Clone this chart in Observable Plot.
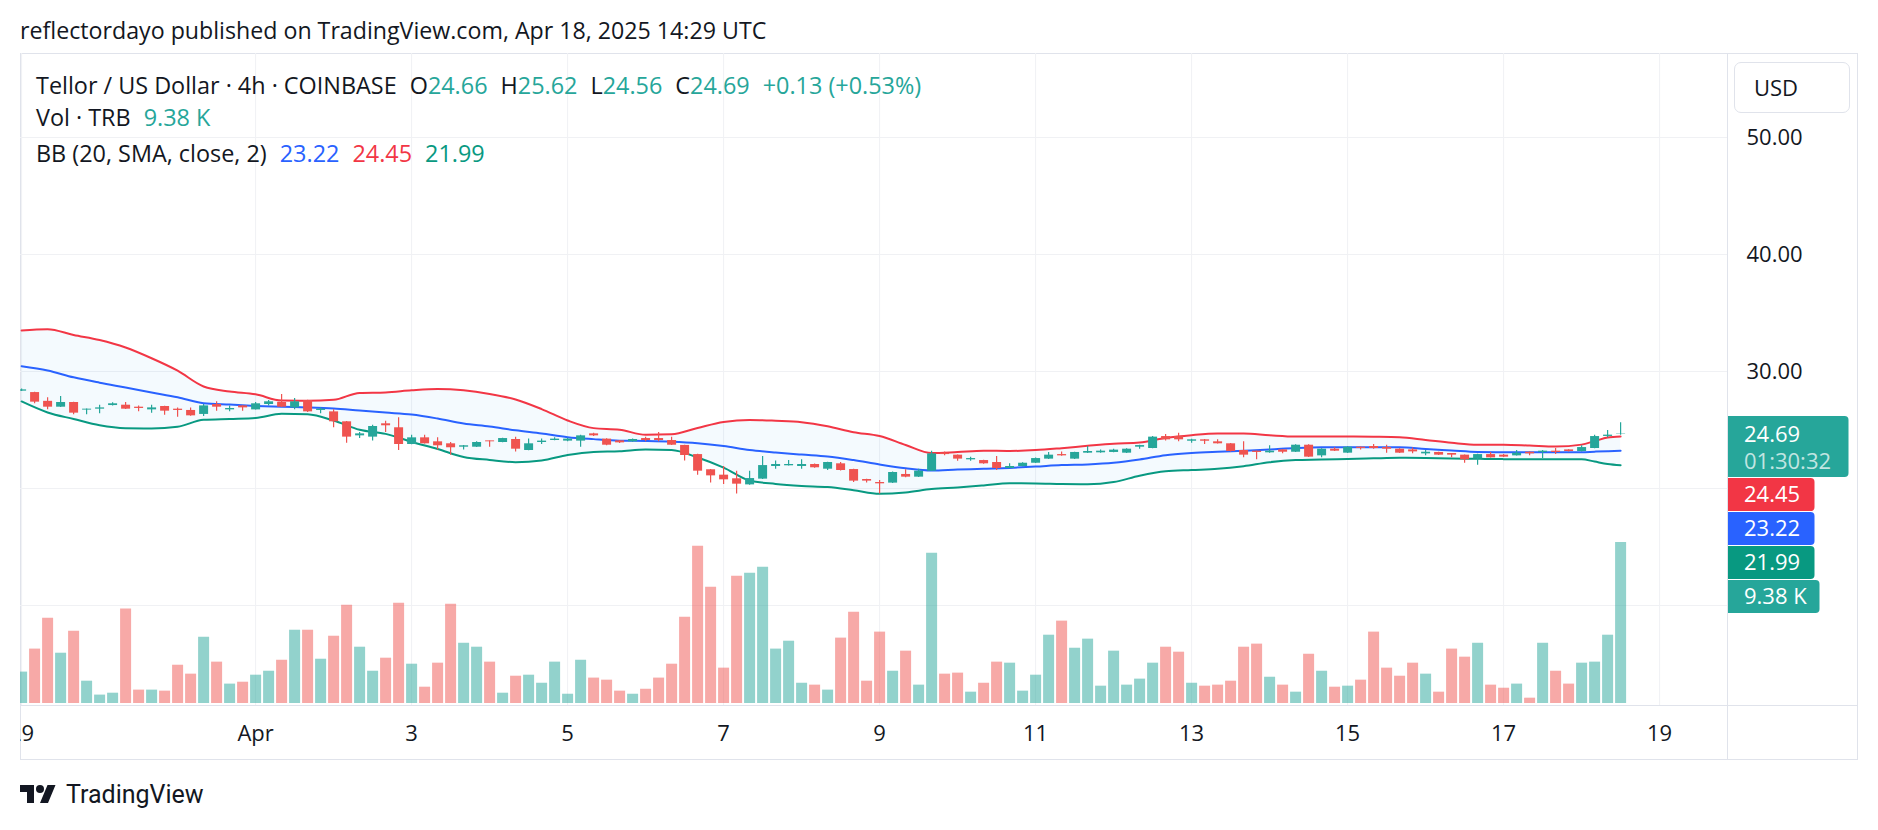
<!DOCTYPE html>
<html>
<head>
<meta charset="utf-8">
<title>Tellor / US Dollar · 4h · COINBASE</title>
<script src="https://cdn.jsdelivr.net/npm/d3@7"></script>
<script src="https://cdn.jsdelivr.net/npm/@observablehq/plot@0.6"></script>
<style>
  html, body { margin: 0; padding: 0; background: #fff; }
  body {
    width: 1878px; height: 830px; position: relative; overflow: hidden;
    font-family: "Open Sans", sans-serif; color: #131722;
  }
  .abs { position: absolute; }
  #header { left: 20px; top: 14px; font-size: 23.2px; line-height: 32px; white-space: nowrap; }
  #frame { left: 20px; top: 53px; width: 1838px; height: 707px; box-sizing: border-box; border: 1px solid #e0e3eb; }
  #vdiv { left: 1727px; top: 53px; width: 1px; height: 707px; background: #e0e3eb; }
  #hdiv { left: 20px; top: 705px; width: 1838px; height: 1px; background: #e0e3eb; }
  #price { left: 20px; top: 53px; }
  #volume { left: 20px; top: 520px; }
  .legend { left: 36px; font-size: 23.4px; line-height: 32px; white-space: nowrap; display: flex; }
  .legend .g { margin-left: 13px; }
  #usd { left: 1734px; top: 62px; width: 116px; height: 51px; box-sizing: border-box;
         border: 1px solid #e0e3eb; border-radius: 7px; font-size: 22px; line-height: 49px; padding-left: 19px; }
  #footer { left: 20px; top: 780px; display: flex; align-items: center; }
  #footer span { font-family: Roboto, sans-serif; font-size: 25px; margin-left: 10px; color: #131722; }
</style>
</head>
<body>
<div id="header" class="abs">reflectordayo published on TradingView.com, Apr 18, 2025 14:29 UTC</div>
<div id="frame" class="abs"></div>
<div id="price" class="abs"></div>
<div id="volume" class="abs"></div>
<div id="vdiv" class="abs"></div>
<div id="hdiv" class="abs"></div>
<div id="legend1" class="abs legend" style="top:69px"></div>
<div id="legend2" class="abs legend" style="top:101px"></div>
<div id="legend3" class="abs legend" style="top:137px"></div>
<div id="usd" class="abs">USD</div>
<div id="footer" class="abs">
  <svg width="36" height="28" viewBox="0 0 36 28"><path fill="#131722" d="M14 22H7V11H0V4h14v18zM28 22h-8l7.5-18h8L28 22z"/><circle fill="#131722" cx="20" cy="8" r="4"/></svg>
  <span>TradingView</span>
</div>
<script>
// 4-hour bars, TRB/USD on Coinbase, starting 29 Mar 2025 00:00 UTC
const firstBar = Date.UTC(2025, 2, 29);
const barMs = 4 * 3600 * 1000;

const open = [28.32,28.20,27.45,26.95,27.35,26.70,26.78,27.09,27.12,26.95, 26.72,27.01,26.78,26.67,26.33,27.18,26.72,27.06,26.72,27.18,
  27.35,26.89,27.52,26.67,26.55,25.70,24.50,24.39,25.53,25.19, 23.76,24.33,23.99,23.82,23.53,23.53,24.07,23.93,24.19,23.25,
  23.93,24.10,24.05,24.05,24.67,24.22,24.07,23.99,24.27,24.27, 24.10,23.68,22.90,21.60,21.14,20.83,20.31,20.80,21.88,21.94,
  21.88,22.05,21.65,22.11,21.62,20.77,20.51,20.46,21.20,20.97, 21.48,23.02,22.85,22.45,22.39,22.22,21.71,21.88,22.16,22.51,
  22.90,22.51,23.02,23.05,23.08,23.02,23.53,23.42,24.44,24.44, 24.04,24.16,23.99,23.82,23.25,23.19,23.05,23.30,23.10,23.70,
  22.79,23.36,23.02,23.53,23.59,23.50,23.36,23.30,22.96,23.08, 22.99,22.85,22.51,22.90,22.85,22.79,23.10,23.08,23.19,23.30,
  23.16,23.42,24.45,24.66];
const high = [28.50,28.22,27.75,27.86,27.38,26.80,27.12,27.32,27.35,27.06, 27.12,27.03,26.89,26.89,27.18,27.41,27.06,27.08,27.35,27.52,
  28.03,27.69,27.55,26.89,26.72,25.72,24.79,25.41,25.75,26.04, 24.56,24.56,24.33,23.93,23.67,24.00,24.07,24.30,24.39,24.24,
  24.24,24.33,24.30,24.55,24.72,24.25,24.10,24.22,24.39,24.79, 24.39,23.70,22.92,21.62,21.88,21.48,21.48,22.73,22.34,22.39,
  22.45,22.10,22.25,22.22,21.65,20.80,20.68,21.40,21.60,21.65, 23.19,23.13,22.87,22.68,22.42,22.73,22.11,22.20,22.60,23.08,
  23.13,23.10,23.59,23.30,23.36,23.40,23.70,24.45,24.61,24.73, 24.20,24.18,24.16,23.85,23.99,23.20,23.65,23.32,23.73,23.73,
  23.40,23.48,23.56,23.55,23.76,23.70,23.40,23.47,23.25,23.10, 23.00,22.87,22.93,23.08,22.90,23.25,23.12,23.25,23.42,23.32,
  23.65,24.56,24.96,25.62];
const low = [28.28,27.24,26.72,26.93,26.30,26.30,26.38,27.05,26.75,26.55, 26.44,26.27,26.10,26.18,26.15,26.61,26.55,26.61,26.70,27.06,
  26.93,26.72,26.50,26.38,25.19,23.87,24.27,24.05,24.79,23.25, 23.74,23.80,23.30,22.85,23.30,23.50,23.53,23.90,23.13,23.22,
  23.76,24.08,24.00,23.53,24.45,23.65,23.85,23.95,23.99,23.99, 23.68,22.34,21.14,20.46,20.34,19.52,20.28,20.77,21.65,21.92,
  21.65,21.74,21.54,21.50,20.51,20.46,19.52,20.43,20.91,20.94, 21.45,22.79,22.33,22.33,22.08,21.54,21.68,21.85,22.13,22.48,
  22.76,22.48,23.00,23.02,23.05,23.00,23.36,23.40,24.05,23.99, 23.87,23.76,23.80,23.13,22.62,22.45,23.02,22.96,23.08,22.65,
  22.62,23.16,23.00,23.30,23.36,23.02,23.00,22.96,22.79,22.82, 22.62,22.16,21.99,22.60,22.65,22.77,22.79,22.56,22.90,23.13,
  23.13,23.40,24.33,24.56];
const close = [28.43,27.38,26.95,27.35,26.44,26.78,26.89,27.24,26.78,26.84, 26.89,26.61,26.67,26.21,27.06,26.95,26.84,26.89,27.24,27.41,
  26.95,27.41,26.55,26.78,25.70,24.39,24.67,25.30,25.36,23.76, 24.33,23.82,23.65,23.48,23.65,23.93,23.99,24.27,23.36,23.82,
  24.05,24.22,24.22,24.50,24.50,23.70,23.90,24.19,24.10,24.10, 23.70,22.82,21.48,21.08,20.74,20.37,20.85,21.96,22.05,22.05,
  22.05,21.77,22.22,21.54,20.63,20.63,20.40,21.37,20.97,21.48, 22.96,22.90,22.51,22.56,22.11,21.71,21.88,22.16,22.56,22.85,
  22.79,23.08,23.16,23.19,23.28,23.36,23.67,24.39,24.16,24.16, 24.16,24.04,23.82,23.16,22.85,23.08,23.19,23.10,23.70,22.68,
  23.36,23.19,23.53,23.42,23.42,23.36,23.02,23.13,23.10,22.85, 22.85,22.45,22.90,22.62,22.68,23.02,22.96,23.19,23.08,23.16,
  23.50,24.44,24.56,24.69];
const volume = [1830,3170,4970,2930,4210,1300,490,600,5500,780, 780,720,2230,1710,3860,2410,1130,1240,1650,1880,
  2520,4270,4270,2580,3920,5730,3280,1880,2640,5840, 2290,950,2350,5790,3510,3280,2410,600,1590,1650,
  1180,2410,540,2520,1480,1360,720,540,830,1480, 2290,5030,9170,6780,2060,7420,7590,7940,3170,3630,
  1180,1070,780,3810,5320,1300,4160,1880,3050,1070, 8760,1710,1770,660,1180,2410,2350,720,1650,3980,
  4800,3220,3750,1010,3050,1070,1420,2350,3280,2990, 1180,1010,1070,1300,3280,3460,1530,1070,660,2870,
  1880,950,1010,1360,4160,2060,1590,2350,1710,660, 3170,2700,3510,1070,890,1130,310,3510,1880,1130,
  2350,2410,3980,9380];

// Bollinger Bands (20, SMA, close, 2), sampled at these bar numbers
const bbBar = [0,2,4,6,8,10,12,14,16,18, 20,22,24,26,28,30,32,34,36,38, 40,42,44,46,48,50,52,54,56,58,
  60,62,64,66,68,70,72,74,76,78, 80,82,84,86,88,90,92,94,96,98, 100,102,104,106,108,110,112,114,116,118, 120,121,122,123];
const bbUpper = [33.50,33.61,33.12,32.69,32.05,31.13,30.07,28.72,28.29,28.05, 27.52,27.50,27.58,28.17,28.21,28.39,28.50,28.39,28.08,27.61,
  26.79,25.81,25.16,25.03,24.59,24.63,25.17,25.68,25.86,25.79, 25.67,25.32,24.81,24.48,23.72,23.03,23.12,23.23,23.21,23.28,
  23.45,23.65,23.83,23.93,24.32,24.56,24.70,24.70,24.55,24.44, 24.44,24.44,24.42,24.38,24.15,23.91,23.74,23.74,23.67,23.59,
  23.75,24.05,24.35,24.45];
const bbBasis = [30.45,30.09,29.50,29.04,28.63,28.21,27.80,27.29,27.17,27.06, 26.98,26.93,26.84,26.66,26.49,26.32,25.98,25.56,25.30,24.97,
  24.70,24.39,24.22,24.09,24.06,24.00,23.87,23.63,23.30,23.08, 22.90,22.74,22.43,22.05,21.73,21.54,21.62,21.68,21.76,21.87,
  22.00,22.06,22.20,22.48,22.85,23.03,23.14,23.23,23.33,23.46, 23.53,23.53,23.53,23.53,23.38,23.25,23.12,23.10,23.10,23.10,
  23.10,23.15,23.19,23.22];
const bbLower = [27.44,26.50,25.94,25.40,25.15,25.13,25.28,25.87,25.95,26.03, 26.38,26.34,25.81,25.02,24.67,23.98,23.38,22.70,22.44,22.25,
  22.39,22.86,23.13,23.19,23.33,23.29,22.65,21.79,20.68,20.39, 20.22,20.12,19.85,19.55,19.66,19.95,20.09,20.26,20.44,20.43,
  20.38,20.36,20.55,21.09,21.47,21.58,21.68,21.91,22.25,22.43, 22.47,22.53,22.58,22.62,22.60,22.56,22.54,22.51,22.50,22.51,
  22.50,22.30,22.10,21.99];

// time-axis labels, price grid levels and the labelled price levels
const dayTicks = ["2025-03-29","2025-04-01","2025-04-03","2025-04-05","2025-04-07","2025-04-09",
  "2025-04-11","2025-04-13","2025-04-15","2025-04-17","2025-04-19"];
const priceGrid = [10, 20, 30, 40, 50];
const priceLabels = [30, 40, 50];
const countdown = "01:30:32";

const UP = "#26a69a", DOWN = "#ef5350";
const UP_VOL = "rgba(38,166,154,0.5)", DOWN_VOL = "rgba(239,83,80,0.5)";
const BB_UP = "#f23645", BB_MID = "#2962ff", BB_LOW = "#089981";
const FONT = '"Open Sans", sans-serif';

const bars = open.map((o, i) => ({
  date: new Date(firstBar + i * barMs),
  open: o, high: high[i], low: low[i], close: close[i], volume: volume[i],
  rising: close[i] >= o
}));
const bands = bbBar.map((b, i) => ({
  date: new Date(firstBar + b * barMs), upper: bbUpper[i], basis: bbBasis[i], lower: bbLower[i]
}));

// horizontal layout: 13 px per 4h bar, first bar 1 px inside the pane
const pxPerDay = 78, paneWidth = 1707;
const DAY = 864e5;
const t0 = firstBar - 1.1 / pxPerDay * DAY;
const xDomain = [new Date(t0), new Date(t0 + paneWidth / pxPerDay * DAY)];
const tickDates = dayTicks.map(d => new Date(d + "T00:00:00Z"));

const monthFmt = d3.utcFormat("%b");
const tickFormat = d => d.getUTCDate() === 1 ? monthFmt(d) : String(d.getUTCDate());

const pricePlot = Plot.plot({
  width: 1837, height: 706,
  marginLeft: 0, marginRight: 130, marginTop: 0, marginBottom: 54,
  style: {fontFamily: FONT, fontSize: "22px", color: "#131722", background: "transparent", overflow: "hidden"},
  x: {type: "utc", domain: xDomain},
  y: {domain: [1.453, 57.179]},
  marks: [
    Plot.gridX(tickDates, {stroke: "#f0f1f4", strokeOpacity: 1}),
    Plot.gridY(priceGrid, {stroke: "#f0f1f4", strokeOpacity: 1}),
    Plot.areaY(bands, {x: "date", y1: "lower", y2: "upper", fill: "#2196f3", fillOpacity: 0.05, curve: "monotone-x"}),
    Plot.lineY(bands, {x: "date", y: "upper", stroke: BB_UP, strokeWidth: 2, curve: "monotone-x"}),
    Plot.lineY(bands, {x: "date", y: "basis", stroke: BB_MID, strokeWidth: 2, curve: "monotone-x"}),
    Plot.lineY(bands, {x: "date", y: "lower", stroke: BB_LOW, strokeWidth: 2, curve: "monotone-x"}),
    Plot.ruleX(bars, {x: "date", y1: "low", y2: "high", stroke: d => d.rising ? UP : DOWN, strokeWidth: 1.2}),
    Plot.ruleX(bars, {x: "date", y1: "open", y2: "close", stroke: d => d.rising ? UP : DOWN, strokeWidth: 9}),
    Plot.axisX({ticks: tickDates, tickFormat, tickSize: 0, tickPadding: 20, fontSize: 22}),
    Plot.axisY({anchor: "right", ticks: priceLabels, tickFormat: d => d.toFixed(2), tickSize: 0, tickPadding: 19, fontSize: 22})
  ]
});
document.getElementById("price").append(pricePlot);

const volumePlot = Plot.plot({
  width: paneWidth, height: 183, margin: 0,
  style: {background: "transparent", overflow: "hidden"},
  x: {type: "utc", domain: xDomain, axis: null},
  y: {domain: [0, 10664], axis: null},
  marks: [
    Plot.ruleX(bars, {x: "date", y1: 0, y2: "volume", stroke: d => d.rising ? UP_VOL : DOWN_VOL, strokeWidth: 11})
  ]
});
document.getElementById("volume").append(volumePlot);

// last-value labels on the price axis, stacked so they do not overlap
const last = bars[bars.length - 1];
const prevClose = close[close.length - 2];
const fmt2 = v => v.toFixed(2);
const fmtVol = v => (v / 1000).toFixed(2) + " K";
const yP = pricePlot.scale("y"), yV = volumePlot.scale("y");
const volOffset = 520 - 53;
const tags = [
  {lines: [fmt2(last.close), countdown], fill: UP, w: 121, h: 61, want: yP.apply(last.close) - 17},
  {lines: [fmt2(bbUpper.at(-1))], fill: BB_UP, w: 87, h: 33, want: yP.apply(bbUpper.at(-1)) - 16.5},
  {lines: [fmt2(bbBasis.at(-1))], fill: BB_MID, w: 87, h: 33, want: yP.apply(bbBasis.at(-1)) - 16.5},
  {lines: [fmt2(bbLower.at(-1))], fill: BB_LOW, w: 87, h: 33, want: yP.apply(bbLower.at(-1)) - 16.5},
  {lines: [fmtVol(last.volume)], fill: UP, w: 92, h: 33, want: yV.apply(last.volume) + volOffset - 16.5}
];
let bottom = -Infinity;
for (const t of tags) { t.top = Math.max(t.want, bottom + 1); bottom = t.top + t.h; }
const x0 = 1707.5, r = 4;
const g = d3.select(pricePlot).append("g")
  .attr("font-family", FONT).attr("font-size", 22).attr("text-anchor", "start");
for (const t of tags) {
  const x1 = x0 + t.w, y0 = t.top, y1 = t.top + t.h;
  g.append("path")
    .attr("d", `M${x0},${y0}H${x1 - r}Q${x1},${y0} ${x1},${y0 + r}V${y1 - r}Q${x1},${y1} ${x1 - r},${y1}H${x0}Z`)
    .attr("fill", t.fill);
  t.lines.forEach((s, i) => {
    g.append("text").attr("x", 1724).attr("y", y0 + (t.lines.length > 1 ? 18 + i * 27 : t.h / 2))
      .attr("dy", "0.35em").attr("fill", i ? "rgba(255,255,255,0.72)" : "#fff").text(s);
  });
}

// legend
function legendLine(el, parts) {
  const node = document.getElementById(el);
  for (const p of parts) {
    const s = document.createElement("span");
    if (p.g) s.className = "g";
    s.style.color = p.c || "#131722";
    s.textContent = p.t;
    node.append(s);
  }
}
const chg = last.close - prevClose;
const sign = v => (v >= 0 ? "+" : "");
legendLine("legend1", [
  {t: "Tellor / US Dollar · 4h · COINBASE"},
  {t: "O", g: 1}, {t: fmt2(last.open), c: UP},
  {t: "H", g: 1}, {t: fmt2(last.high), c: UP},
  {t: "L", g: 1}, {t: fmt2(last.low), c: UP},
  {t: "C", g: 1}, {t: fmt2(last.close), c: UP},
  {t: `${sign(chg)}${chg.toFixed(2)} (${sign(chg)}${(chg / prevClose * 100).toFixed(2)}%)`, c: UP, g: 1}
]);
legendLine("legend2", [{t: "Vol · TRB"}, {t: fmtVol(last.volume), c: UP, g: 1}]);
legendLine("legend3", [
  {t: "BB (20, SMA, close, 2)"},
  {t: fmt2(bbBasis.at(-1)), c: BB_MID, g: 1},
  {t: fmt2(bbUpper.at(-1)), c: BB_UP, g: 1},
  {t: fmt2(bbLower.at(-1)), c: BB_LOW, g: 1}
]);
</script>
</body>
</html>
